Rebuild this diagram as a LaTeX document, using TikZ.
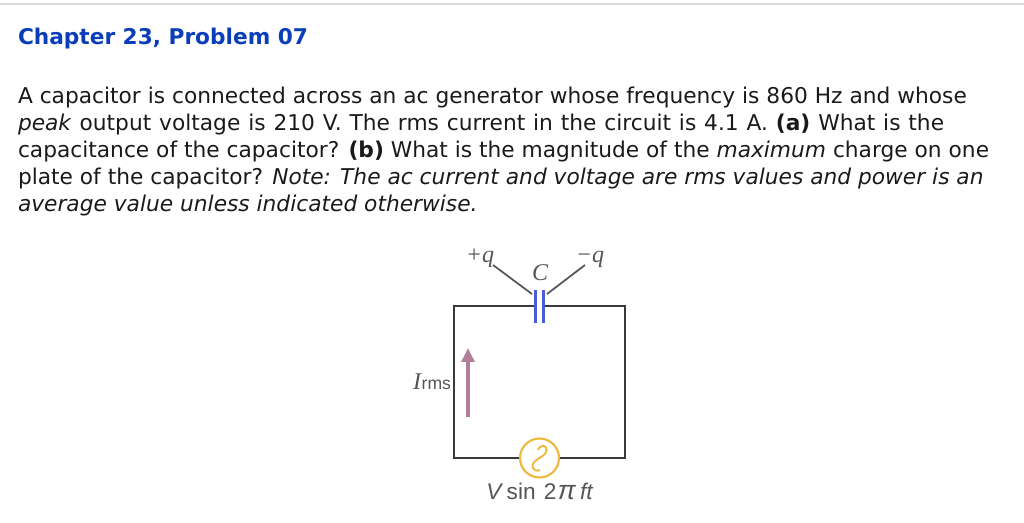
\documentclass[tikz,border=0pt]{standalone}
\usepackage{fontspec}
\setmainfont{DejaVu Sans}
\newfontfamily\labelserif{Liberation Serif}
\newfontfamily\labelsans{Liberation Sans}
\usepackage{tikz}
\usetikzlibrary{arrows.meta}
\definecolor{TitleBlue}{HTML}{0A3DB8}
\definecolor{TextInk}{HTML}{1A1A1A}
\definecolor{WireInk}{HTML}{3A3A3A}
\definecolor{PlateBlue}{HTML}{4A5BD8}
\definecolor{CurrentRose}{HTML}{B27D98}
\definecolor{SourceGold}{HTML}{EDB83C}
\definecolor{LabelInk}{HTML}{555555}
\tikzset{
  textline/.style={anchor=base west, inner sep=0pt, outer sep=0pt, font=\fontsize{16.3pt}{20pt}\selectfont, text=TextInk},
  wire/.style={draw=WireInk, line width=1.9pt},
  leadline/.style={draw=LabelInk, line width=1.3pt},
  plate/.style={draw=PlateBlue, line width=2pt},
  circlabel/.style={inner sep=0pt, outer sep=0pt, text=LabelInk, font=\fontsize{18pt}{20pt}\labelserif\itshape}
}
\begin{document}
\begin{tikzpicture}[x=0.75pt,y=-0.75pt]
\useasboundingbox (0,0) rectangle (1024,523);
\draw[draw=black!15, line width=1.2pt] (0,4) -- (1024,4);
%
\node[textline, text=TitleBlue, font=\fontsize{16.25pt}{20pt}\selectfont\bfseries] (title) at (18,45) {Chapter 23, Problem 07};
%
\node[textline] (lineA) at (18,104) {A capacitor is connected across an ac generator whose frequency is 860 Hz and whose};
\node[textline] (lineB) at (18,131) {\spaceskip=5.9pt \textit{peak} output voltage is 210 V. The rms current in the circuit is 4.1 A. \textbf{(a)} What is the};
\node[textline] (lineC) at (18,158) {capacitance of the capacitor? \textbf{(b)} What is the magnitude of the \textit{maximum} charge on one};
\node[textline] (lineD) at (18,185) {plate of the capacitor? \textit{Note: The ac current and voltage are rms values and power is an}};
\node[textline] (lineE) at (18,212) {\textit{average value unless indicated otherwise.}};
%
\coordinate (cornerNW) at (454,306);
\coordinate (cornerNE) at (625,306);
\coordinate (cornerSW) at (454,458);
\coordinate (cornerSE) at (625,458);
\coordinate (plateL) at (535.5,306);
\coordinate (plateR) at (543.5,306);
\node[circle, draw=SourceGold, line width=1.6pt, minimum size=39pt*0.75, inner sep=0pt] (source) at (539.5,458) {};
%
\draw[wire] (source.west) -- (cornerSW) -- (cornerNW) -- (plateL);
\draw[wire] (source.east) -- (cornerSE) -- (cornerNE) -- (plateR);
%
\draw[plate] (535.5,290) -- (535.5,323);
\draw[plate] (543.5,290) -- (543.5,323);
\draw[draw=SourceGold, line width=1.4pt] (538,450) .. controls (539,446) and (546,443) .. (546.5,450) .. controls (547,456) and (534,459) .. (532.5,465) .. controls (532,470) and (537,472) .. (540,470);
%
\coordinate (arrowTail) at (468,417);
\coordinate (arrowHead) at (468,348);
\draw[draw=CurrentRose, line width=2.8pt, -{Triangle[length=10.5pt,width=9.5pt]}] (arrowTail) -- (arrowHead);
%
\node[circlabel] (plusq) at (480,258) {+q};
\node[circlabel] (minusq) at (590,259) {−q};
\node[circlabel] (capC) at (540,273) {C};
\coordinate (plusEnd) at (532,294);
\coordinate (minusEnd) at (547,294);
\draw[leadline] (493,265) -- (plusEnd);
\draw[leadline] (585,265) -- (minusEnd);
%
\node[circlabel, anchor=base east] (irms) at (451,390) {I\kern0.5pt{\labelsans\upshape\fontsize{13.2pt}{14pt}\selectfont rms}};
\node[circlabel, anchor=base, font=\fontsize{17pt}{20pt}\labelsans] (vsource) at (540,499) {\textit{V}\kern2.5pt sin\kern1.5pt\ 2\kern1pt{\fontsize{20pt}{20pt}\selectfont\textit{π}}\kern3pt\textit{ft}};
\end{tikzpicture}
\end{document}
